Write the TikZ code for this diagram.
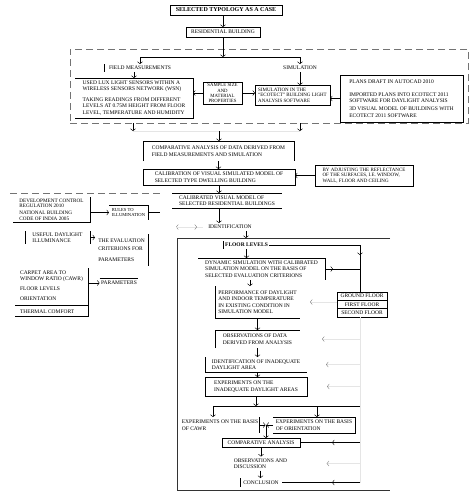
\documentclass[tikz,border=0pt]{standalone}
\usepackage{fontspec}
\setmainfont{Liberation Serif}
\usetikzlibrary{arrows.meta,calc}
\newcommand\fsz{\fontsize{5.5}{6.5}\selectfont}
\newcommand\fsm{\fontsize{5}{5.6}\selectfont}
\begin{document}
\begin{tikzpicture}[x=1pt,y=-1pt,
  every node/.style={font=\fsz, inner xsep=1.5pt, inner ysep=0pt, outer sep=0pt},
  bx/.style 2 args={minimum width=#1pt, minimum height=#2pt, align=left},
  cbx/.style 2 args={minimum width=#1pt, minimum height=#2pt, align=center},
  frame/.style={draw, line width=0.6pt},
  edge/.style={line width=0.6pt},
  arr/.style={edge, -{Straight Barb[length=2pt,width=5pt,line width=0.45pt]}},
  faint/.style={line width=0.5pt, draw=black!10, -{Straight Barb[length=2pt,width=5pt,line width=0.45pt,color=black!45]}},
  faintline/.style={line width=0.5pt, draw=black!10},
  dsh/.style={line width=0.9pt, draw=black!55, dash pattern=on 7pt off 4pt},
]
\useasboundingbox (0,0) rectangle (474,499);

% top
\node[cbx={112}{10}, frame, font=\fontsize{6}{7}\selectfont\bfseries] (title) at (226,10) {SELECTED TYPOLOGY AS A CASE};
\node[cbx={74}{10}, frame] (res) at (223,32) {RESIDENTIAL BUILDING};
\draw[arr] (title.south -| res.north) -- (res.north);

% dashed group
\node[dsh, minimum width=398pt, minimum height=74pt, inner sep=0pt] (grp) at (269,86) {};
\coordinate (bl) at (140,57);
\coordinate (br) at (300,57);
\draw[edge] (bl) -- (br);
\draw[arr] (res.south) -- (res.south |- bl);

\node[cbx={72}{8}] (fm) at (140,68) {FIELD MEASUREMENTS};
\draw[edge] (fm.north west) -- (fm.south west);
\draw[arr] (bl) -- (fm.north);
\node[cbx={36}{8}] (sim) at (300,68) {SIMULATION};
\draw[arr] (br) -- (sim.north);

\node[bx={118}{40}] (meas) at (134,98) {USED LUX LIGHT SENSORS WITHIN A\\ WIRELESS SENSORS NETWORK (WSN)\\[4pt] TAKING READINGS FROM DIFFERENT\\ LEVELS AT 0.75M HEIGHT FROM FLOOR\\ LEVEL, TEMPERATURE AND HUMIDITY};
\draw[edge] (meas.north west) -- (meas.north east) -- (meas.south east) -- (meas.south west);
\draw[arr] ([xshift=-6pt]fm.south) -- ([xshift=-6pt]fm.south |- meas.north);

\node[cbx={39}{22}, frame, font=\fontsize{4.8}{5.1}\selectfont] (samp) at (222.5,93) {SAMPLE SIZE\\AND\\MATERIAL\\PROPERTIES};
\draw[arr] (samp.west) -- (samp.west -| meas.east);

\node[bx={75}{20}, frame, font=\fsm] (simb) at (292.5,95) {SIMULATION IN THE\\ “ECOTECT” BUILDING LIGHT\\ ANALYSIS SOFTWARE};
\draw[arr] (samp.east) -- (samp.east -| simb.west);
\draw[arr] (sim.south) -- (sim.south |- simb.north);

\node[bx={123}{47}, frame] (plans) at (401.5,98.5) {PLANS DRAFT IN AUTOCAD 2010\\[6pt] IMPORTED PLANS INTO ECOTECT 2011\\ SOFTWARE FOR DAYLIGHT ANALYSIS\\[1.5pt] 3D VISUAL MODEL OF BUILDINGS WITH\\ ECOTECT 2011 SOFTWARE};
\draw[arr] (plans.west) -- (plans.west -| simb.east);

% below group
\coordinate (m1) at (133,131);
\coordinate (m2) at (300,131);
\coordinate (m0) at (219,131);
\draw[faintline] (m1) -- (m2);
\draw[arr] (grp.south -| m1) -- (m1);
\draw[arr] (grp.south -| m2) -- (m2);

\node[bx={151}{20}] (comp) at (218.5,151) {COMPARATIVE ANALYSIS OF DATA DERIVED FROM\\ FIELD MEASUREMENTS AND SIMULATION};
\draw[edge] (comp.south west) -- (comp.north west) -- (comp.north east) -- (comp.south east);
\draw[arr] (m0) -- (m0 |- comp.north);

\node[bx={152}{16}, frame] (calib) at (219,177) {CALIBRATION OF VISUAL SIMULATED MODEL OF\\ SELECTED TYPE DWELLING BUILDING};
\draw[arr] (comp.south) -- (comp.south |- calib.north);

\node[bx={98}{21}, frame, font=\fsm] (refl) at (364,175.5) {BY ADJUSTING THE REFLECTANCE\\ OF THE SURFACES, I.E. WINDOW,\\ WALL, FLOOR AND CEILING};
\draw[arr] (refl.west) -- (refl.west -| calib.east);

% left dashed line
\coordinate (dl1) at (10,193);
\coordinate (dl2) at (160,193);
\draw[dsh] (dl1) -- (dl2);

\node[bx={110}{15}] (calvis) at (227,200.5) {CALIBRATED VISUAL MODEL OF\\ SELECTED RESIDENTIAL BUILDINGS};
\draw[edge] (calvis.north west) -- (calvis.north east);
\draw[edge] (calvis.south west) -- (calvis.south east);
\draw[arr] (calib.south) -- (calib.south |- calvis.north);

\node[cbx={54}{8}] (ident) at (230,227) {IDENTIFICATION};
\draw[arr] (calib.south |- calvis.south) -- (calib.south |- ident.north);
\coordinate (lj) at (176,227);
\draw[faint] (ident.west) -- (lj);
\draw[faint] (lj) -- ([xshift=-6pt]ident.west);

% left column
\node[bx={77}{25}, font=\fontsize{5.2}{5.8}\selectfont] (dcr) at (51.5,209.5) {DEVELOPMENT CONTROL\\ REGULATION 2010\\[1pt] NATIONAL BUILDING\\ CODE OF INDIA 2005};
\draw[edge] (dcr.north east) -- (dcr.south east) -- (dcr.south west);

\node[bx={39}{15}, font=\fontsize{4.6}{5.6}\selectfont] (rules) at (128.5,212.5) {RULES TO\\ ILLUMINATION};
\draw[edge] (rules.north west) -- (rules.north east) -- (rules.south east);
\coordinate (rj) at (160,212.5);
\draw[edge] (rules.east) -- (rj);
\draw[arr] (dcr.east |- rules.west) -- (rules.west);

\node[bx={65}{13}] (udi) at (57.5,237.5) {USEFUL DAYLIGHT\\ ILLUMINANCE};
\draw[edge] (udi.north west) -- (udi.south west);
\draw[edge] (udi.north east) -- (udi.south east);

\node[bx={53}{32}] (eval) at (121.5,250) {THE EVALUATION\\[2pt] CRITERIONS FOR\\[4pt] PARAMETERS};
\draw[edge] (eval.north east) -- (eval.south east);
\draw[arr] (udi.east) -- (udi.east -| eval.west);

\node[bx={73}{48}] (parl) at (51.5,292) {CARPET AREA TO\\ WINDOW RATIO (CAWR)\\[3.5pt] FLOOR LEVELS\\[3.5pt] ORIENTATION\\[6.5pt] THERMAL COMFORT};
\draw[edge] (parl.north east) -- (parl.south east) -- (parl.south west);
\draw[edge] ($(parl.south west)+(0,-11)$) -- ($(parl.south east)+(0,-11)$);

\node[cbx={38}{10}] (params) at (119,283) {PARAMETERS};
\draw[edge] (params.north west) -- (params.north east);
\draw[arr] (parl.east |- params.west) -- (params.west);

% big box
\coordinate (bb1) at (390,238);
\coordinate (bb2) at (177,238);
\coordinate (bb3) at (177,490);
\coordinate (bb4) at (390,490);
\draw[line width=0.8pt, black!80] (bb1) -- (bb2) -- (bb3) -- (bb4);
\coordinate (it) at (246,238);
\draw[arr] (ident.south -| it) -- (it);

\node[cbx={43}{8}, font=\fsz\bfseries] (fl) at (246.5,245) {FLOOR LEVELS};
\draw[edge] (fl.north west) -- (fl.south west);

\node[cbx={50}{8.33}, frame] (gf) at (362,296.2) {GROUND FLOOR};
\node[cbx={50}{8.33}, frame] (ff) at (362,304.5) {FIRST FLOOR};
\node[cbx={50}{8.33}, frame] (sf) at (362,312.8) {SECOND FLOOR};

\coordinate (vx) at (360,245);
\draw[edge] (fl.east) -- (vx) -- (vx |- gf.north);
\draw[arr] (vx) -- ++(0,10);

\node[bx={127}{22}] (dyn) at (261.5,269) {DYNAMIC SIMULATION WITH CALIBRATED\\ SIMULATION MODEL ON THE BASIS OF\\ SELECTED EVALUATION CRITERIONS};
\draw[edge] (dyn.north west) -- (dyn.north east) -- (dyn.south east);
\draw[arr] (fl.south) -- (fl.south |- dyn.north);
\draw[edge] (dyn.east) -- (dyn.east -| vx);
\draw[arr] (dyn.east) -- ++(8,0);

\node[bx={85}{32}] (perc) at (257.5,302) {PERFORMANCE OF DAYLIGHT\\ AND INDOOR TEMPERATURE\\ IN EXISTING CONDITION IN\\ SIMULATION MODEL};
\draw[edge] (perc.north west) -- (perc.south west) -- (perc.south east);
\draw[arr] ([xshift=-11.5pt]dyn.south) -- ([xshift=-11.5pt]dyn.south |- perc.north);

\node[bx={85}{18}] (obs) at (257.5,339) {OBSERVATIONS OF DATA\\ DERIVED FROM ANALYSIS};
\draw[edge] (obs.south west) -- (obs.north west) -- (obs.north east);
\draw[arr] (perc.south) -- (perc.south |- obs.north);

\node[bx={102}{15}] (idin) at (256,364.5) {IDENTIFICATION OF INADEQUATE\\ DAYLIGHT AREA};
\draw[edge] (idin.north west) -- (idin.south west) -- (idin.south east);
\draw[arr] (obs.south) -- (obs.south |- idin.north);

\node[bx={102}{19}, frame] (exin) at (256,386.5) {EXPERIMENTS ON THE\\ INADEQUATE DAYLIGHT AREAS};
\draw[arr] (obs.south |- idin.south) -- (obs.south |- exin.north);

\coordinate (s1) at (213,406);
\coordinate (s3) at (317,406);
\coordinate (s2) at (360,406);
\draw[edge] (s1) -- (s2);
\draw[arr] (exin.south) -- (exin.south |- s1);

\node[bx={76}{16}] (expc) at (220,425) {EXPERIMENTS ON THE BASIS\\ OF CAWR};
\draw[edge] (expc.north east) -- (expc.south east);
\draw[arr] (s1) -- (s1 |- expc.north);

\node[bx={82}{16}] (exor) at (314,425) {EXPERIMENTS ON THE BASIS\\ OF ORIENTATION};
\draw[edge] (exor.north west) -- (exor.north east) -- (exor.south east) -- (exor.south west);
\draw[arr] (s3) -- (s3 |- exor.north);

\node[cbx={78}{9}, frame] (comp2) at (261,442.5) {COMPARATIVE ANALYSIS};
\coordinate (mg) at (266,425);
\draw[arr] (expc.east) -- ([xshift=-0.5pt]mg);
\draw[arr] (exor.west) -- ([xshift=0.5pt]mg);
\draw[arr] (mg) -- (mg |- comp2.north);

\coordinate (c2r) at (360,442.5);
\draw[edge] (c2r) -- (comp2.east);
\draw[arr] (c2r) -- ++(-28,0);

\node[bx={56}{14}] (obsd) at (260.5,463.5) {OBSERVATIONS AND\\ DISCUSSION};
\draw[arr] (comp2.south) -- (comp2.south |- obsd.north);

\node[cbx={42}{9}] (concl) at (261,482.5) {CONCLUSION};
\draw[edge] (concl.north west) -- (concl.south west);
\draw[arr] (obsd.south) -- (obsd.south |- concl.north);
\coordinate (cr) at (360,482.5);
\draw[edge] (cr) -- (concl.east);
\draw[arr] (cr) -- ++(-28,0);

% faint right-hand feeds
\draw[faintline] (sf.south -| vx) -- (cr);
\draw[faint] (gf.west |- perc.east) -- ([xshift=10pt]perc.east);
\draw[faint] (vx |- obs.east) -- ([xshift=22pt]obs.east);
\draw[faint] (vx |- idin.east) -- ([xshift=19pt]idin.east);
\draw[faint] (vx |- exin.east) -- ([xshift=20pt]exin.east);
\draw[faint] (vx |- obsd.east) -- ([xshift=38pt]obsd.east);
\end{tikzpicture}
\end{document}
